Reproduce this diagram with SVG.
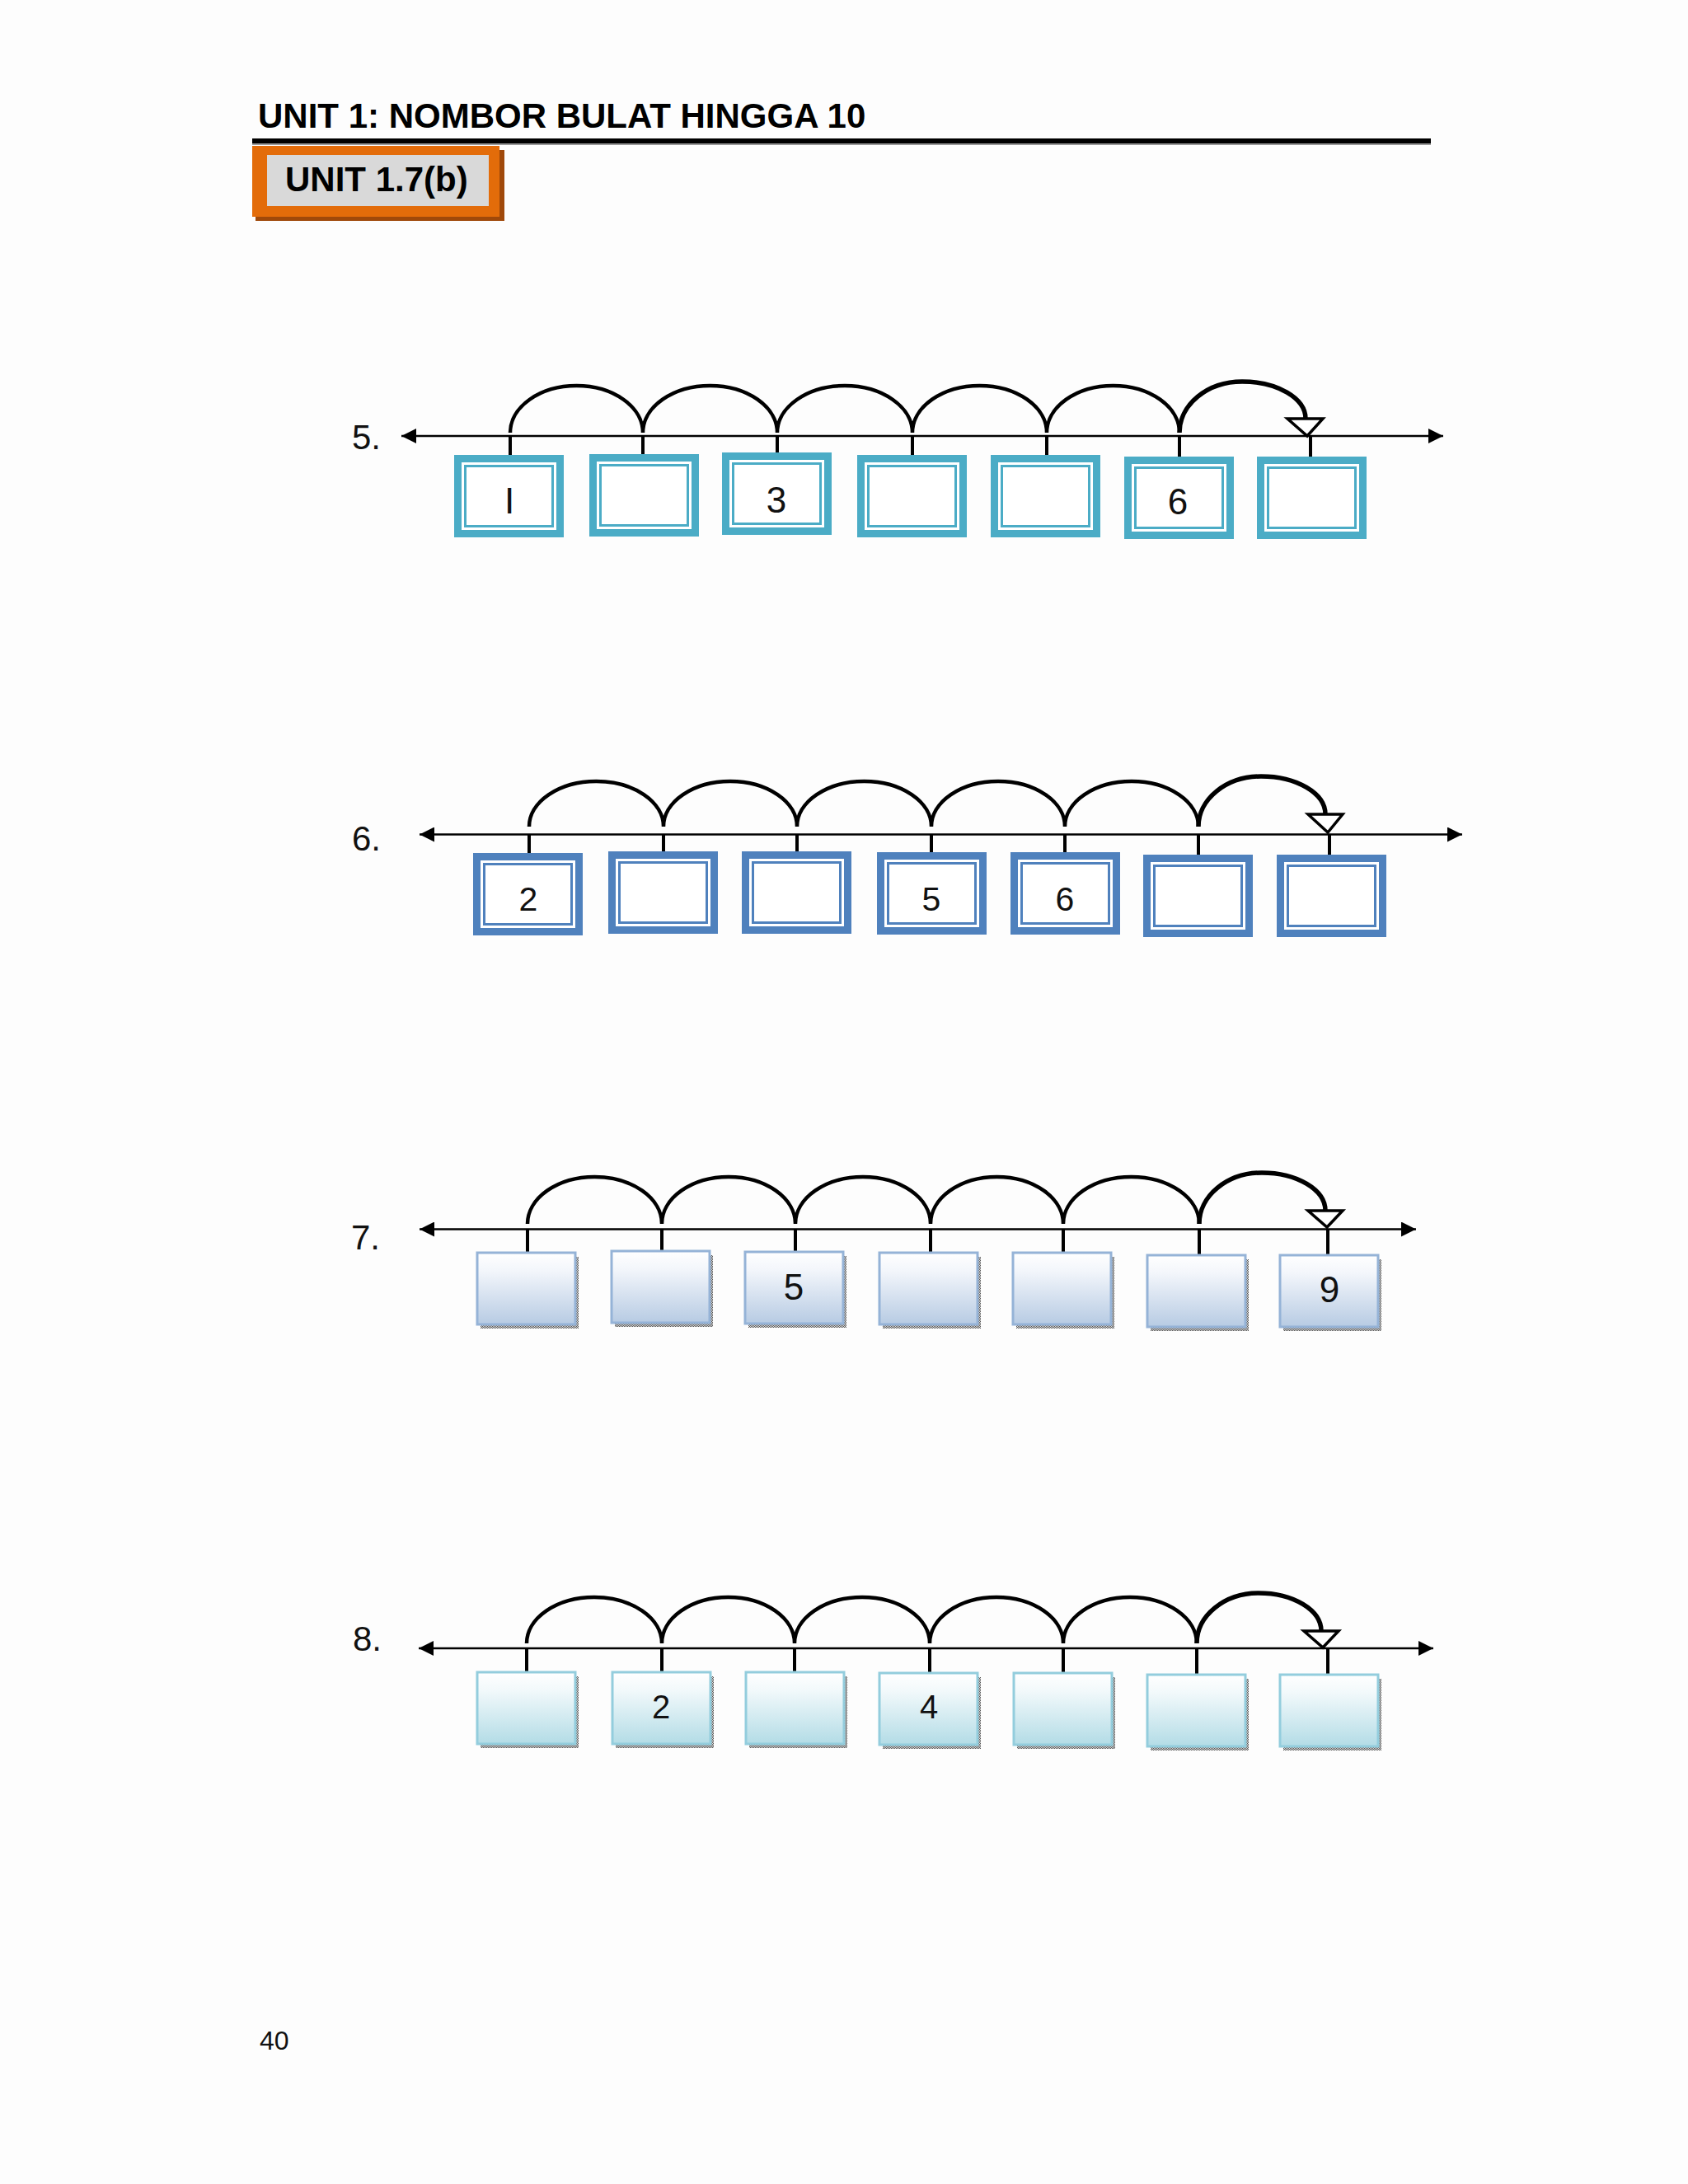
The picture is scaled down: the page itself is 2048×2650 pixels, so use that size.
<svg xmlns="http://www.w3.org/2000/svg" width="2048" height="2650" viewBox="0 0 2048 2650">
  <style>
    .hdr{font-family:"Liberation Sans",Arial,sans-serif;font-weight:bold;font-size:42px;fill:#000}
    .lbl{font-family:"Liberation Sans",Arial,sans-serif;font-size:42px;fill:#111}
    .num{font-family:"Liberation Sans",Arial,sans-serif;fill:#111;text-anchor:middle}
    .axis{stroke:#000;stroke-width:2.5;fill:none}
    .arc{stroke:#000;stroke-width:4.5;fill:none}
    .arcl{stroke:#000;stroke-width:5.5;fill:none}
    .tick{stroke:#000;stroke-width:4;fill:none}
    .tri{fill:#fff;stroke:#000;stroke-width:3.5;stroke-linejoin:miter}
    .teal{fill:#4BACC6}
    .blue{fill:#4F81BD}
    .wh{fill:#fff}
    .tealin{fill:none;stroke:#4BACC6;stroke-width:3}
    .bluein{fill:none;stroke:#4F81BD;stroke-width:3}
    .g7{fill:url(#grad7);stroke:#95B3D7;stroke-width:3}
    .g8{fill:url(#grad8);stroke:#93CDDD;stroke-width:3}
    .shd{fill:url(#dots)}
  </style>
  <defs>
    <marker id="ah" viewBox="0 0 18 18" refX="18" refY="9" markerWidth="18" markerHeight="18" markerUnits="userSpaceOnUse" orient="auto-start-reverse">
      <path d="M0,0 L18,9 L0,18 z" fill="#000"/>
    </marker>
    <linearGradient id="grad7" x1="0" y1="0" x2="0" y2="1">
      <stop offset="0" stop-color="#FFFFFF"/>
      <stop offset="0.25" stop-color="#F3F6FB"/>
      <stop offset="1" stop-color="#B7CBE3"/>
    </linearGradient>
    <linearGradient id="grad8" x1="0" y1="0" x2="0" y2="1">
      <stop offset="0" stop-color="#FFFFFF"/>
      <stop offset="0.25" stop-color="#F2F9FB"/>
      <stop offset="1" stop-color="#B3DCE6"/>
    </linearGradient>
    <pattern id="dots" x="0" y="0" width="2" height="2" patternUnits="userSpaceOnUse">
      <rect width="2" height="2" fill="#ddd"/>
      <rect width="1" height="1" fill="#555"/>
      <rect x="1" y="1" width="1" height="1" fill="#555"/>
    </pattern>
  </defs>

  <rect width="2048" height="2650" fill="#FDFDFD"/>

  <!-- Header -->
  <g id="header">
    <text class="hdr" x="313" y="155">UNIT 1: NOMBOR BULAT HINGGA 10</text>
    <rect x="306" y="174" width="1430" height="2" fill="#999"/>
    <rect x="306" y="168" width="1430" height="6" fill="#000"/>
  </g>
  <g id="unit-badge">
    <rect x="310" y="182" width="302" height="86" fill="#A0490A"/>
    <rect x="306" y="177" width="300" height="86" fill="#E36C0A"/>
    <rect x="324" y="188" width="269" height="62" fill="#D9D9D9"/>
    <text class="hdr" x="346" y="232">UNIT 1.7(b)</text>
  </g>

  <!-- Row labels -->
  <g id="label-5"><text class="lbl" x="427" y="545">5.</text></g>
  <g id="label-6"><text class="lbl" x="427" y="1032">6.</text></g>
  <g id="label-7"><text class="lbl" x="426" y="1516">7.</text></g>
  <g id="label-8"><text class="lbl" x="428" y="2003">8.</text></g>

  <!-- Connectors -->
  <g id="connectors">
    <!-- Row 5 -->
    <line class="axis" x1="487" y1="529" x2="1751" y2="529" marker-start="url(#ah)" marker-end="url(#ah)"/>
    <path class="tick" d="M619,529V553 M780,529V553 M943,529V551 M1107,529V553 M1270,529V553 M1431,529V555 M1590,529V555"/>
    <path class="arc" d="M619,525 A80.5,57 0 0 1 780,525 A81.5,57 0 0 1 943,525 A82,57 0 0 1 1107,525 A81.5,57 0 0 1 1270,525 A80.5,57 0 0 1 1431,525"/>
    <path class="arcl" d="M1431,525 A76,62 0 0 1 1507,463 A77,45 0 0 1 1584,508"/>
    <polygon class="tri" points="1562,508 1605,508 1586,529"/>

    <!-- Row 6 -->
    <line class="axis" x1="509" y1="1012.5" x2="1774" y2="1012.5" marker-start="url(#ah)" marker-end="url(#ah)"/>
    <path class="tick" d="M642,1012V1036 M805,1012V1042 M967,1012V1034 M1130,1012V1035 M1292,1012V1035 M1454,1012V1038 M1613,1012V1038"/>
    <path class="arc" d="M642,1003 A81.5,55 0 0 1 805,1003 A81,55 0 0 1 967,1003 A81.5,55 0 0 1 1130,1003 A81,55 0 0 1 1292,1003 A81,55 0 0 1 1454,1003"/>
    <path class="arcl" d="M1454,1003 A76,61 0 0 1 1530,942 A78,46 0 0 1 1608,988"/>
    <polygon class="tri" points="1587,988 1629,988 1611,1010"/>

    <!-- Row 7 -->
    <line class="axis" x1="509" y1="1491.5" x2="1718" y2="1491.5" marker-start="url(#ah)" marker-end="url(#ah)"/>
    <path class="tick" d="M640,1491V1521 M803,1491V1519 M965,1491V1520 M1129,1491V1521 M1290,1491V1521 M1455,1491V1524 M1611,1491V1524"/>
    <path class="arc" d="M640,1485 A81.5,57 0 0 1 803,1485 A81,57 0 0 1 965,1485 A82,57 0 0 1 1129,1485 A80.5,57 0 0 1 1290,1485 A82.5,57 0 0 1 1455,1485"/>
    <path class="arcl" d="M1455,1485 A76,62 0 0 1 1531,1423 A77,46 0 0 1 1608,1469"/>
    <polygon class="tri" points="1587,1469 1629,1469 1610,1489"/>

    <!-- Row 8 -->
    <line class="axis" x1="508" y1="2000" x2="1739" y2="2000" marker-start="url(#ah)" marker-end="url(#ah)"/>
    <path class="tick" d="M639,2000V2030 M803,2000V2030 M964,2000V2030 M1128,2000V2031 M1290,2000V2031 M1452,2000V2033 M1611,2000V2033"/>
    <path class="arc" d="M639,1994 A82,56 0 0 1 803,1994 A80.5,56 0 0 1 964,1994 A82,56 0 0 1 1128,1994 A81,56 0 0 1 1290,1994 A81,56 0 0 1 1452,1994"/>
    <path class="arcl" d="M1452,1994 A75,61 0 0 1 1527,1933 A76,46 0 0 1 1603,1979"/>
    <polygon class="tri" points="1582,1979 1624,1979 1605,1999"/>
  </g>

  <!-- Row 5 boxes -->
  <g id="r5-b1"><rect class="teal" x="551" y="552" width="133" height="100"/><rect class="wh" x="560" y="561" width="115" height="82"/><rect class="tealin" x="564.5" y="565.5" width="106" height="73"/><text class="num" x="618" y="623" font-size="44">I</text></g>
  <g id="r5-b2"><rect class="teal" x="715" y="551" width="133" height="100"/><rect class="wh" x="724" y="560" width="115" height="82"/><rect class="tealin" x="728.5" y="564.5" width="106" height="73"/></g>
  <g id="r5-b3"><rect class="teal" x="876" y="549" width="133" height="100"/><rect class="wh" x="885" y="558" width="115" height="82"/><rect class="tealin" x="889.5" y="562.5" width="106" height="73"/><text class="num" x="942" y="622" font-size="44">3</text></g>
  <g id="r5-b4"><rect class="teal" x="1040" y="552" width="133" height="100"/><rect class="wh" x="1049" y="561" width="115" height="82"/><rect class="tealin" x="1053.5" y="565.5" width="106" height="73"/></g>
  <g id="r5-b5"><rect class="teal" x="1202" y="552" width="133" height="100"/><rect class="wh" x="1211" y="561" width="115" height="82"/><rect class="tealin" x="1215.5" y="565.5" width="106" height="73"/></g>
  <g id="r5-b6"><rect class="teal" x="1364" y="554" width="133" height="100"/><rect class="wh" x="1373" y="563" width="115" height="82"/><rect class="tealin" x="1377.5" y="567.5" width="106" height="73"/><text class="num" x="1429" y="624" font-size="44">6</text></g>
  <g id="r5-b7"><rect class="teal" x="1525" y="554" width="133" height="100"/><rect class="wh" x="1534" y="563" width="115" height="82"/><rect class="tealin" x="1538.5" y="567.5" width="106" height="73"/></g>

  <!-- Row 6 boxes -->
  <g id="r6-b1"><rect class="blue" x="574" y="1035" width="133" height="100"/><rect class="wh" x="583" y="1044" width="115" height="82"/><rect class="bluein" x="587.5" y="1048.5" width="106" height="73"/><text class="num" x="641" y="1105" font-size="41">2</text></g>
  <g id="r6-b2"><rect class="blue" x="738" y="1033" width="133" height="100"/><rect class="wh" x="747" y="1042" width="115" height="82"/><rect class="bluein" x="751.5" y="1046.5" width="106" height="73"/></g>
  <g id="r6-b3"><rect class="blue" x="900" y="1033" width="133" height="100"/><rect class="wh" x="909" y="1042" width="115" height="82"/><rect class="bluein" x="913.5" y="1046.5" width="106" height="73"/></g>
  <g id="r6-b4"><rect class="blue" x="1064" y="1034" width="133" height="100"/><rect class="wh" x="1073" y="1043" width="115" height="82"/><rect class="bluein" x="1077.5" y="1047.5" width="106" height="73"/><text class="num" x="1130" y="1105" font-size="41">5</text></g>
  <g id="r6-b5"><rect class="blue" x="1226" y="1034" width="133" height="100"/><rect class="wh" x="1235" y="1043" width="115" height="82"/><rect class="bluein" x="1239.5" y="1047.5" width="106" height="73"/><text class="num" x="1292" y="1105" font-size="41">6</text></g>
  <g id="r6-b6"><rect class="blue" x="1387" y="1037" width="133" height="100"/><rect class="wh" x="1396" y="1046" width="115" height="82"/><rect class="bluein" x="1400.5" y="1050.5" width="106" height="73"/></g>
  <g id="r6-b7"><rect class="blue" x="1549" y="1037" width="133" height="100"/><rect class="wh" x="1558" y="1046" width="115" height="82"/><rect class="bluein" x="1562.5" y="1050.5" width="106" height="73"/></g>

  <!-- Row 7 boxes -->
  <g id="r7-b1"><rect class="shd" x="583" y="1525" width="119" height="87"/><rect class="g7" x="579" y="1520" width="119" height="87"/></g>
  <g id="r7-b2"><rect class="shd" x="746" y="1523" width="119" height="87"/><rect class="g7" x="742" y="1518" width="119" height="87"/></g>
  <g id="r7-b3"><rect class="shd" x="908" y="1524" width="119" height="87"/><rect class="g7" x="904" y="1519" width="119" height="87"/><text class="num" x="963" y="1577" font-size="44">5</text></g>
  <g id="r7-b4"><rect class="shd" x="1071" y="1525" width="119" height="87"/><rect class="g7" x="1067" y="1520" width="119" height="87"/></g>
  <g id="r7-b5"><rect class="shd" x="1233" y="1525" width="119" height="87"/><rect class="g7" x="1229" y="1520" width="119" height="87"/></g>
  <g id="r7-b6"><rect class="shd" x="1396" y="1528" width="119" height="87"/><rect class="g7" x="1392" y="1523" width="119" height="87"/></g>
  <g id="r7-b7"><rect class="shd" x="1557" y="1528" width="119" height="87"/><rect class="g7" x="1553" y="1523" width="119" height="87"/><text class="num" x="1613" y="1580" font-size="44">9</text></g>

  <!-- Row 8 boxes -->
  <g id="r8-b1"><rect class="shd" x="583" y="2034" width="119" height="87"/><rect class="g8" x="579" y="2029" width="119" height="87"/></g>
  <g id="r8-b2"><rect class="shd" x="747" y="2034" width="119" height="87"/><rect class="g8" x="743" y="2029" width="119" height="87"/><text class="num" x="802" y="2085" font-size="40">2</text></g>
  <g id="r8-b3"><rect class="shd" x="909" y="2034" width="119" height="87"/><rect class="g8" x="905" y="2029" width="119" height="87"/></g>
  <g id="r8-b4"><rect class="shd" x="1071" y="2035" width="119" height="87"/><rect class="g8" x="1067" y="2030" width="119" height="87"/><text class="num" x="1127" y="2085" font-size="40">4</text></g>
  <g id="r8-b5"><rect class="shd" x="1234" y="2035" width="119" height="87"/><rect class="g8" x="1230" y="2030" width="119" height="87"/></g>
  <g id="r8-b6"><rect class="shd" x="1396" y="2037" width="119" height="87"/><rect class="g8" x="1392" y="2032" width="119" height="87"/></g>
  <g id="r8-b7"><rect class="shd" x="1557" y="2037" width="119" height="87"/><rect class="g8" x="1553" y="2032" width="119" height="87"/></g>

  <!-- Page number -->
  <g id="page-number"><text x="315" y="2487" font-family="'Liberation Sans',Arial,sans-serif" font-size="32" fill="#111">40</text></g>
</svg>
